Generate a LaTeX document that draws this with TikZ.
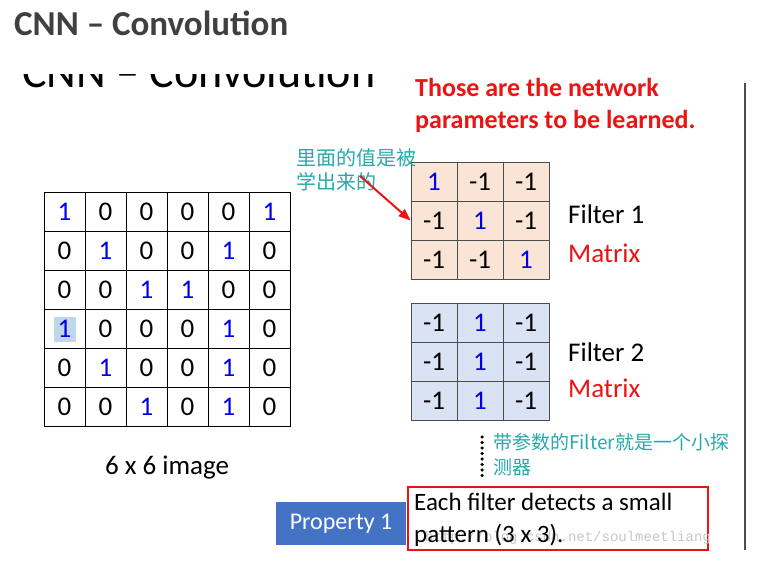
\documentclass[tikz,border=0pt]{standalone}
\usepackage{fontspec}
\setmainfont{Carlito}
\newfontfamily\cjk{Noto Sans CJK SC}
\newfontfamily\wm{Liberation Mono}
\usetikzlibrary{arrows.meta}
\definecolor{bl}{RGB}{0,0,230}
\definecolor{rd}{RGB}{235,20,20}
\definecolor{tl}{RGB}{40,170,170}
\definecolor{fa}{RGB}{250,228,214}
\definecolor{fb}{RGB}{218,227,243}
\definecolor{pb}{RGB}{68,114,196}
\definecolor{hl}{RGB}{190,215,235}
\tikzset{x=1pt,y=-1pt,
 cellg/.style={draw=black,line width=0.8pt,minimum width=41pt,minimum height=39pt,inner sep=0pt,font=\fontsize{27}{27}\selectfont},
 cellf/.style={draw=black!70,line width=0.8pt,minimum width=46pt,minimum height=39pt,inner sep=0pt,font=\fontsize{27}{27}\selectfont},
 lbl/.style={anchor=west,font=\fontsize{27}{30}\selectfont,inner sep=0pt},
 cn/.style={anchor=north west,font=\cjk\fontsize{20}{24}\selectfont,text=tl,inner sep=0pt,align=left}}
\begin{document}
\begin{tikzpicture}
\useasboundingbox (0,0) rectangle (757,562);
\fill[white] (0,0) rectangle (757,562);
\node[anchor=base west,inner sep=0pt,text=black!75,font=\bfseries\fontsize{35}{35}\selectfont] (title) at (14,35) {CNN – Convolution};
\begin{scope}
\clip (0,74) rectangle (400,100);
\node[anchor=base west,inner sep=0pt,font=\fontsize{46}{46}\selectfont] (ghost) at (22,87) {CNN – Convolution};
\end{scope}
\draw[line width=2pt,black!70] (745,83) -- (745,550);
\node[anchor=north west,inner sep=0pt,text=rd,align=left,font=\bfseries\fontsize{26}{32}\selectfont] (red) at (415,78) {Those are the network\\parameters to be learned.};
% image
\foreach \r [count=\i from 0] in {{1,0,0,0,0,1},{0,1,0,0,1,0},{0,0,1,1,0,0},{1,0,0,0,1,0},{0,1,0,0,1,0},{0,0,1,0,1,0}}{
 \foreach \v [count=\j from 0] in \r {
  \pgfmathtruncatemacro\vv{\v}
  \ifnum\vv=1 \def\cc{bl}\else\def\cc{black}\fi
  \node[cellg,text=\cc] (g\i\j) at ({64.5+41*\j},{211.5+39*\i}) {\vv};
 }}
\fill[hl] (54,317) rectangle (76,342);
\node[font=\fontsize{27}{27}\selectfont,text=bl,inner sep=0pt] (hl1) at (g30) {1};
\node[font=\fontsize{27}{27}\selectfont,inner sep=0pt] (cap) at (167,468) {6 x 6 image};
% filters
\foreach \r [count=\i from 0] in {{1,-1,-1},{-1,1,-1},{-1,-1,1}}{
 \foreach \v [count=\j from 0] in \r {
  \pgfmathtruncatemacro\vv{\v}
  \ifnum\vv=1 \def\cc{bl}\else\def\cc{black}\fi
  \node[cellf,fill=fa,text=\cc] (a\i\j) at ({434+46*\j},{181.5+39*\i}) {\vv};
 }}
\foreach \r [count=\i from 0] in {{-1,1,-1},{-1,1,-1},{-1,1,-1}}{
 \foreach \v [count=\j from 0] in \r {
  \pgfmathtruncatemacro\vv{\v}
  \ifnum\vv=1 \def\cc{bl}\else\def\cc{black}\fi
  \node[cellf,fill=fb,text=\cc] (b\i\j) at ({434+46*\j},{322.5+39*\i}) {\vv};
 }}
\node[lbl] (f1) at (568,214) {Filter 1};
\node[lbl,text=rd] (m1) at (568,253) {Matrix};
\node[lbl] (f2) at (568,352) {Filter 2};
\node[lbl,text=rd] (m2) at (568,388) {Matrix};
\node[cn] (c1) at (296,148) {里面的值是被\\学出来的};
\coordinate (as) at (360,176);
\draw[rd,line width=2pt,-{Triangle[length=12pt,width=9pt]}] (as) -- (a10.west);
\coordinate (d1) at (482,437);
\coordinate (d2) at (482,476);
\draw[line width=3.5pt,line cap=round,dash pattern=on 0pt off 5.5pt] (d1) -- (d2);
\node[cn,font=\cjk\fontsize{19}{25}\selectfont] (c2) at (493,433) {带参数的Filter就是一个小探\\测器};
\node[fill=pb,text=white,minimum width=130pt,minimum height=43pt,inner sep=0pt,font=\fontsize{24}{24}\selectfont] (p1) at (341,523.5) {Property 1};
\draw[rd,line width=1.5pt] (408,487) rectangle (708,550);
\node[anchor=west,inner sep=0pt,font=\fontsize{14}{14}\selectfont\wm,text=black!22] (wm) at (425,538) {http://blog.csdn.net/soulmeetliang};
\node[anchor=north west,inner sep=0pt,align=left,font=\fontsize{25}{32}\selectfont] (txt) at (414,493) {Each filter detects a small\\pattern (3 x 3).};
\end{tikzpicture}
\end{document}
